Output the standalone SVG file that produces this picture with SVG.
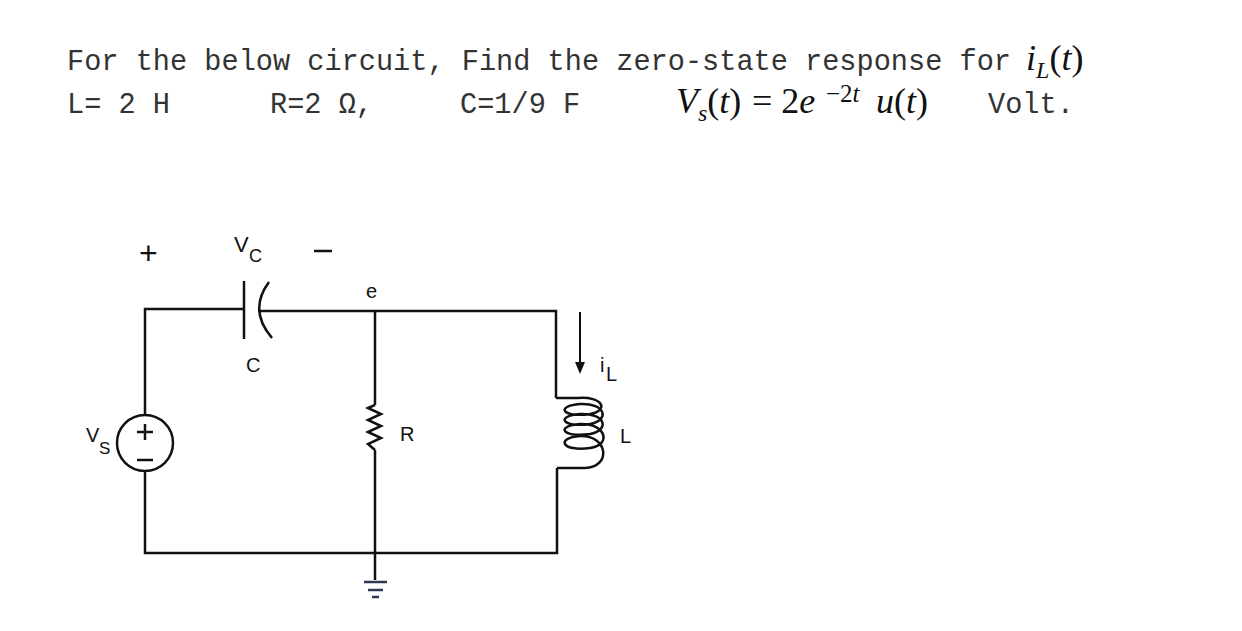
<svg xmlns="http://www.w3.org/2000/svg" width="1242" height="631" viewBox="0 0 1242 631">
<style>
.m{font-family:"Liberation Mono",monospace;font-size:28.6px;fill:#333}
.s{font-family:"Liberation Serif",serif;font-size:36px;fill:#111}
.i{font-style:italic}
.a{font-family:"Liberation Sans",Arial,sans-serif;font-size:20px;fill:#111}
.w{fill:none;stroke:#111;stroke-width:2.5}
</style>
<rect width="1242" height="631" fill="#fff"/>
<g id="title">
<text class="m" x="67" y="70" textLength="944" lengthAdjust="spacingAndGlyphs">For the below circuit, Find the zero-state response for</text>
<text class="s" x="1026" y="70"><tspan class="i">i</tspan><tspan class="i" style="font-size:24px" dy="8">L</tspan><tspan dy="-8">(</tspan><tspan class="i">t</tspan>)</text>
<text class="m" x="67" y="113">L= 2 H</text>
<text class="m" x="270" y="113">R=2 Ω,</text>
<text class="m" x="460" y="113">C=1/9 F</text>
<text class="s" x="676" y="113"><tspan class="i">V</tspan><tspan class="i" style="font-size:24px" dy="8">s</tspan><tspan dy="-8">(</tspan><tspan class="i">t</tspan>)</text>
<text class="s" x="752" y="113">= 2<tspan class="i">e</tspan></text>
<text class="s" x="826" y="102" style="font-size:25px">−2<tspan class="i">t</tspan></text>
<text class="s" x="876" y="113"><tspan class="i">u</tspan>(<tspan class="i">t</tspan>)</text>
<text class="m" x="988" y="113">Volt.</text>
</g>
<g id="connectors">
<path class="w" d="M145,415 V309 H244 M258,311 H556 V398 M557,468 V553 H145 V471 M375,311 V405 M375,450 V553 V580"/>
</g>
<g id="capacitor">
<line class="w" x1="244" y1="281" x2="244" y2="339"/>
<path class="w" d="M269,282 Q248,310 272,338"/>
<text class="a" x="234" y="252" style="font-size:22px">V</text><text class="a" x="249" y="262" style="font-size:18px">C</text>
<text class="a" x="246" y="372">C</text>
<text class="a" x="139" y="264" style="font-size:32px">+</text>
<line x1="314" y1="251" x2="332" y2="251" stroke="#111" stroke-width="2.5"/>
<text class="a" x="366" y="298">e</text>
</g>
<g id="source">
<circle class="w" cx="145" cy="443" r="28"/>
<path class="w" d="M137,432 H153 M145,424 V440 M137,460 H153"/>
<text class="a" x="86" y="442">V</text><text class="a" x="99" y="454" style="font-size:17px">S</text>
</g>
<g id="resistor">
<path class="w" d="M375,405 L368,408 L381,414 L368,420 L381,426 L368,432 L381,438 L368,444 L375,450" stroke-width="2"/>
<text class="a" x="400" y="441">R</text>
</g>
<g id="inductor">
<path class="w" d="M556,398 H578 C602,396 610,410 590,414 C562,418 555,406 580,404 C606,403 610,420 590,424 C562,428 555,416 580,414 C606,413 610,430 590,434 C562,438 555,426 580,424 C606,423 612,445 590,448 C562,452 555,438 580,436 C608,435 612,467 585,468 H557" stroke-width="2.2"/>
<text class="a" x="620" y="443">L</text>
<line x1="580" y1="312" x2="580" y2="365" stroke="#111" stroke-width="2"/>
<path d="M575,362 L585,362 L580,374 Z" fill="#111"/>
<text class="a" x="600" y="372">i</text><text class="a" x="606" y="381">L</text>
</g>
<g id="ground">
<path d="M364,582 H387 M368,590 H383 M372,597 H379" stroke="#2a3a55" stroke-width="2.5"/>
</g>
</svg>
